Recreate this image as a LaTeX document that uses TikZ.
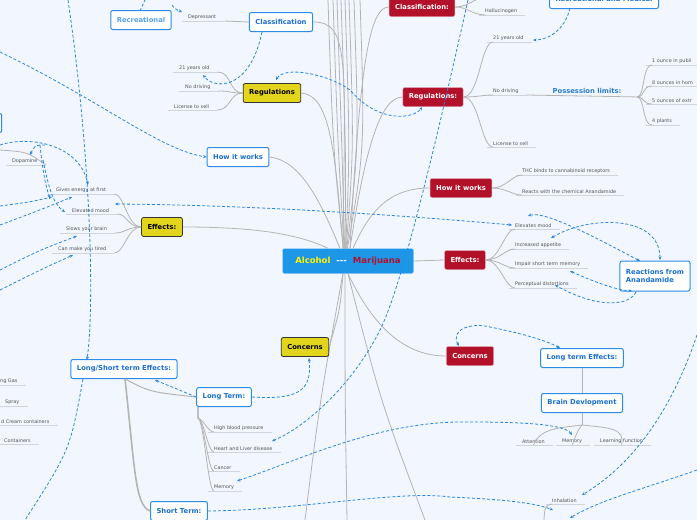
\documentclass[tikz,border=0pt]{standalone}
\usepackage{fontspec}
\setmainfont{DejaVu Sans}
\usetikzlibrary{arrows.meta}
\definecolor{bg}{HTML}{F2F6FE}
\definecolor{bbord}{HTML}{2D8CE8}
\definecolor{btext}{HTML}{1A70D0}
\definecolor{yel}{HTML}{E3D41C}
\definecolor{redb}{HTML}{B3102A}
\definecolor{cent}{HTML}{1E96E8}
\definecolor{branch}{HTML}{B4B4B4}
\definecolor{uline}{HTML}{D0D4DC}
\definecolor{labt}{HTML}{555555}
\definecolor{dash}{HTML}{2A86E0}
\tikzset{
 bluebox/.style={draw=bbord,line width=1pt,fill=white,rounded corners=2pt,text=btext,font=\fontsize{6.8}{8.5}\selectfont\bfseries,inner xsep=6pt,inner ysep=0pt,minimum height=19pt},
 yelbox/.style={draw=black!80,line width=0.8pt,fill=yel,rounded corners=2pt,text=black,font=\fontsize{6.8}{8}\selectfont\bfseries,inner xsep=6pt,minimum height=19pt},
 redbox/.style={fill=redb,draw=redb!40,rounded corners=2pt,text=white,font=\fontsize{6.8}{8}\selectfont\bfseries,inner xsep=6pt,minimum height=19pt},
 lab/.style={anchor=south west,text=labt,font=\fontsize{4.9}{5.5}\selectfont,inner xsep=2pt,inner ysep=1.5pt},
 ul/.style={draw=uline,line width=1pt},
 br/.style={draw=branch,line width=0.8pt},
 brt/.style={draw=branch,line width=1.6pt},
 dl/.style={draw=dash,dashed,dash pattern=on 3pt off 2pt,line width=0.8pt},
 ar/.style={-{Stealth[length=3.5pt,width=3pt]}},
 ab/.style={{Stealth[length=3.5pt,width=3pt]}-{Stealth[length=3.5pt,width=3pt]}},
}
\newcommand\labu[3]{\node[lab] (#1) at #2 {#3};\draw[ul] ([xshift=-4pt]#1.south west) -- ([xshift=6pt]#1.south east);}
\begin{document}
\begin{tikzpicture}[x=1pt,y=-1pt]
\fill[bg] (0,0) rectangle (697,520);
\useasboundingbox (0,0) rectangle (697,520);
\coordinate (c) at (345,262);
\foreach \x in {328,333,337,341,345,349,354,360}{\draw[br] (c) .. controls (\x+5,150) .. (\x,0);}
\draw[br] (c) .. controls (320,400) .. (305,520);
\draw[br] (c) .. controls (380,400) .. (425,520);
\draw[br] (c) .. controls (345,400) .. (347,520);

% ===== Left side
\node[bluebox,text=bbord!80] (recr) at (141,20) {Recreational};
\node[bluebox] (clsA) at (281,22) {Classification};
\labu{depr}{(186,21)}{Depressant}
\draw[br] (clsA.west) -- ([xshift=6pt]depr.south east);
\node[yelbox] (regA) at (272,93) {Regulations};
\labu{a21}{(177,72)}{21 years old}
\labu{adr}{(183,91)}{No driving}
\labu{alic}{(172,110)}{License to sell}
\foreach \n in {a21,adr,alic}{\draw[br] (regA.west) .. controls +(-14,0) and +(14,0) .. ([xshift=6pt]\n.south east);}
\node[bluebox] (howA) at (238,157) {How it works};
\node[yelbox] (effA) at (162,227) {Effects:};
\labu{ge}{(54,194)}{Gives energy at first}
\labu{em}{(70,214)}{Elevated mood}
\labu{sb}{(64,233)}{Slows your brain}
\labu{ct}{(56,253)}{Can make you tired}
\foreach \n in {ge,em,sb,ct}{\draw[br] (effA.west) .. controls +(-14,0) and +(10,0) .. ([xshift=6pt]\n.south east);}
\labu{dop}{(10,165)}{Dopamine}
\draw[br] ([xshift=6pt]dop.south east) .. controls (28,152) .. (0,150);
\node[bluebox] (lbox) at (-20,123) {\phantom{XXXXXX}};
\node[yelbox] (concA) at (305,347) {Concerns};
\node[bluebox] (lse) at (124,369) {Long/Short term Effects:};
\node[bluebox] (lt) at (224,397) {Long Term:};
\node[bluebox] (st) at (179,511) {Short Term:};
\coordinate (lsb) at (125,379);
\draw[br,line width=1pt] (lsb) .. controls (150,392) .. (lt.west);
\draw[brt] (lsb) .. controls (135,470) and (135,505) .. (st.west);
\labu{hb}{(212,432)}{High blood pressure}
\labu{hl}{(212,452)}{Heart and Liver disease}
\labu{ca}{(212,471)}{Cancer}
\labu{me}{(212,491)}{Memory}
\foreach \n in {hb,hl,ca,me}{\draw[br] (198,407) -- (198,418) .. controls (204,420) and +(-6,0) .. ([xshift=2pt]\n.south west);}
\labu{g1}{(-2,385)}{ng Gas}
\labu{g2}{(3,406)}{Spray}
\labu{g3}{(-1,425)}{d Cream containers}
\labu{g4}{(2,444)}{Containers}

% ===== Right side
\node[redbox] (clsB) at (422,7) {Classification:};
\labu{hal}{(483,15)}{Hallucinogen}
\draw[br] (clsB.east) .. controls (468,7) and (470,14) .. ([xshift=2pt]hal.south west);
\draw[br] (clsB.east) .. controls (468,7) and (475,-2) .. (485,-3);
\node[bluebox] (rm) at (604,-1) {Recreational and Medical};
\node[redbox] (regB) at (433,97) {Regulations:};
\labu{b21}{(491,42)}{21 years old}
\labu{bdr}{(491,95)}{No driving}
\labu{blic}{(491,147)}{License to sell}
\foreach \n in {b21,bdr,blic}{\draw[br] (regB.east) .. controls +(16,0) and +(-12,0) .. ([xshift=2pt]\n.south west);}
\draw[br] ([xshift=6pt]bdr.south east) -- (640,97);
\node[text=bbord!90!black,font=\fontsize{6.8}{8}\selectfont\bfseries,inner sep=1pt] (pos) at (587,91) {Possession limits:};
\labu{p1}{(650,65)}{1 ounce in publi}
\labu{p2}{(650,86)}{8 ounces in hom}
\labu{p3}{(650,104)}{5 ounces of extr}
\labu{p4}{(650,125)}{4 plants}
\foreach \n in {p1,p2,p3,p4}{\draw[br] (637,97) .. controls +(8,0) and +(-10,0) .. ([xshift=2pt]\n.south west);}
\node[redbox] (howB) at (461,188) {How it works};
\labu{thc}{(520,175)}{THC binds to cannabinoid receptors}
\labu{rea}{(520,195)}{Reacts with the chemical Anandamide}
\foreach \n in {thc,rea}{\draw[br] (howB.east) .. controls +(14,0) and +(-10,0) .. ([xshift=2pt]\n.south west);}
\node[redbox] (effB) at (465,260) {Effects:};
\labu{bem}{(513,229)}{Elevates mood}
\labu{bia}{(513,249)}{Increased appetite}
\labu{bim}{(513,268)}{Impair short term memory}
\labu{bpd}{(513,288)}{Perceptual distortions}
\foreach \n in {bem,bia,bim,bpd}{\draw[br] (effB.east) .. controls +(14,0) and +(-10,0) .. ([xshift=2pt]\n.south west);}
\node[bluebox,align=left,minimum height=30pt] (ran) at (655,276) {Reactions from\\Anandamide};
\node[redbox] (concB) at (470,356) {Concerns};
\node[bluebox] (lte) at (582,358) {Long term Effects:};
\node[bluebox] (bd) at (582,403) {Brain Devlopment};
\draw[br] (lte.south) -- (bd.north);
\labu{att}{(520,445)}{Attention}
\labu{bme}{(560,445)}{Memory}
\labu{lf}{(598,445)}{Learning function}
\coordinate (bdj) at (582,425);
\draw[br] (bd.south) -- (bdj);
\draw[br] (bdj) .. controls (560,428) and (540,428) .. (att.south);
\draw[br] (bdj) .. controls (578,430) .. (bme.south);
\draw[br] (bdj) .. controls (610,428) and (625,428) .. (lf.south);
\labu{inh}{(550,504)}{Inhalation}
\draw[br] ([xshift=2pt]inh.south west) .. controls (545,506) .. (544,520);

% center node
\node[fill=cent,draw=cent!40,rounded corners=2pt,minimum width=131pt,minimum height=25pt,font=\fontsize{8.5}{10}\selectfont\bfseries] (ctr) at (348,261) {\textcolor{yellow}{Alcohol}\ \ \textcolor{white}{-{}-{}-}\ \ \textcolor{redb}{Marijuana}};

% gray branches from center
\draw[br] ([xshift=-5pt]ctr.north) .. controls (345,60) and (350,22) .. (clsA.east);
\draw[br] ([xshift=-5pt]ctr.north) .. controls (335,150) and (330,95) .. (regA.east);
\draw[br] ([xshift=-8pt]ctr.north) .. controls (320,200) and (300,160) .. (howA.east);
\draw[br] ([xshift=-20pt]ctr.north) .. controls (300,235) and (260,227) .. (effA.east);
\draw[br] ([xshift=-5pt]ctr.south) .. controls (340,310) .. (concA.east);
\draw[br] ([xshift=2pt]ctr.north) .. controls (360,60) and (370,7) .. (clsB.west);
\draw[br] ([xshift=2pt]ctr.north) .. controls (365,150) and (380,97) .. (regB.west);
\draw[br] ([xshift=5pt]ctr.north) .. controls (370,210) and (390,188) .. (howB.west);
\draw[br] (ctr.east) -- (effB.west);
\draw[br] (ctr.south) .. controls (370,320) and (400,356) .. (concB.west);

% ===== dashed connectors
\draw[dl,ar] (0,52) .. controls (100,100) and (160,150) .. (howA.west);
\draw[dl,ar] (68,0) .. controls (90,150) and (95,300) .. (87,360);
\draw[dl] (83,379) .. controls (70,450) .. (25,520);
\draw[dl,ar] (262,32) .. controls (250,90) and (215,90) .. (203,75);
\draw[dl] (140,11) -- (145,0);
\draw[dl,ar] (172,5) .. controls (175,9) .. (182,12);
\draw[dl,ab] (276,80) .. controls (285,65) and (330,75) .. (350,90) .. controls (380,125) and (415,118) .. (422,107);
\draw[dl,ab] (115,204) .. controls (250,205) and (400,215) .. (512,225);
\draw[dl,ar] (45,145) .. controls (35,145) .. (30,155);
\draw[dl,ar] (0,145) .. controls (30,135) and (80,145) .. (88,185);
\draw[dl,ar] (40,145) .. controls (42,165) and (45,185) .. (50,198);
\draw[dl,ar] (43,160) .. controls (50,195) and (55,205) .. (65,212);
\draw[dl,ar] (0,206) .. controls (30,202) .. (52,197);
\draw[dl,ar] (0,225) .. controls (40,210) .. (72,197);
\draw[dl,ar] (0,270) .. controls (40,250) .. (77,236);
\draw[dl,ar] (0,290) .. controls (40,270) .. (73,255);
\draw[dl,ar] (lt.west) -- (155,380);
\draw[dl,ar] (lt.east) .. controls (300,400) and (312,390) .. (309,358);
\draw[dl,ar] (468,0) .. controls (430,170) and (400,290) .. (380,330) .. controls (350,390) and (300,430) .. (272,441);
\draw[dl,ab] (237,481) .. controls (300,460) and (380,420) .. (470,422) .. controls (530,422) and (565,425) .. (572,435);
\draw[dl,ab] (459,346) .. controls (450,330) and (470,322) .. (490,327) .. controls (520,333) and (545,340) .. (560,348);
\draw[dl,ar] (570,8) .. controls (565,30) and (548,40) .. (533,40);
\draw[dl,ab] (528,216) .. controls (545,210) and (600,240) .. (640,261);
\draw[dl,ab] (551,238) .. controls (590,215) and (660,215) .. (660,260);
\draw[dl,ab] (570,271) .. controls (590,280) and (615,290) .. (632,291);
\draw[dl,ar] (636,292) .. controls (630,305) and (600,310) .. (555,285);
\draw[dl,ar] (697,335) .. controls (675,400) and (640,460) .. (582,495);
\draw[dl,ar] (697,470) .. controls (640,490) and (600,500) .. (570,518);
\draw[dl,ar] (st.east) .. controls (300,510) and (400,490) .. (450,497) .. controls (520,500) and (540,505) .. (553,510);
\end{tikzpicture}
\end{document}
